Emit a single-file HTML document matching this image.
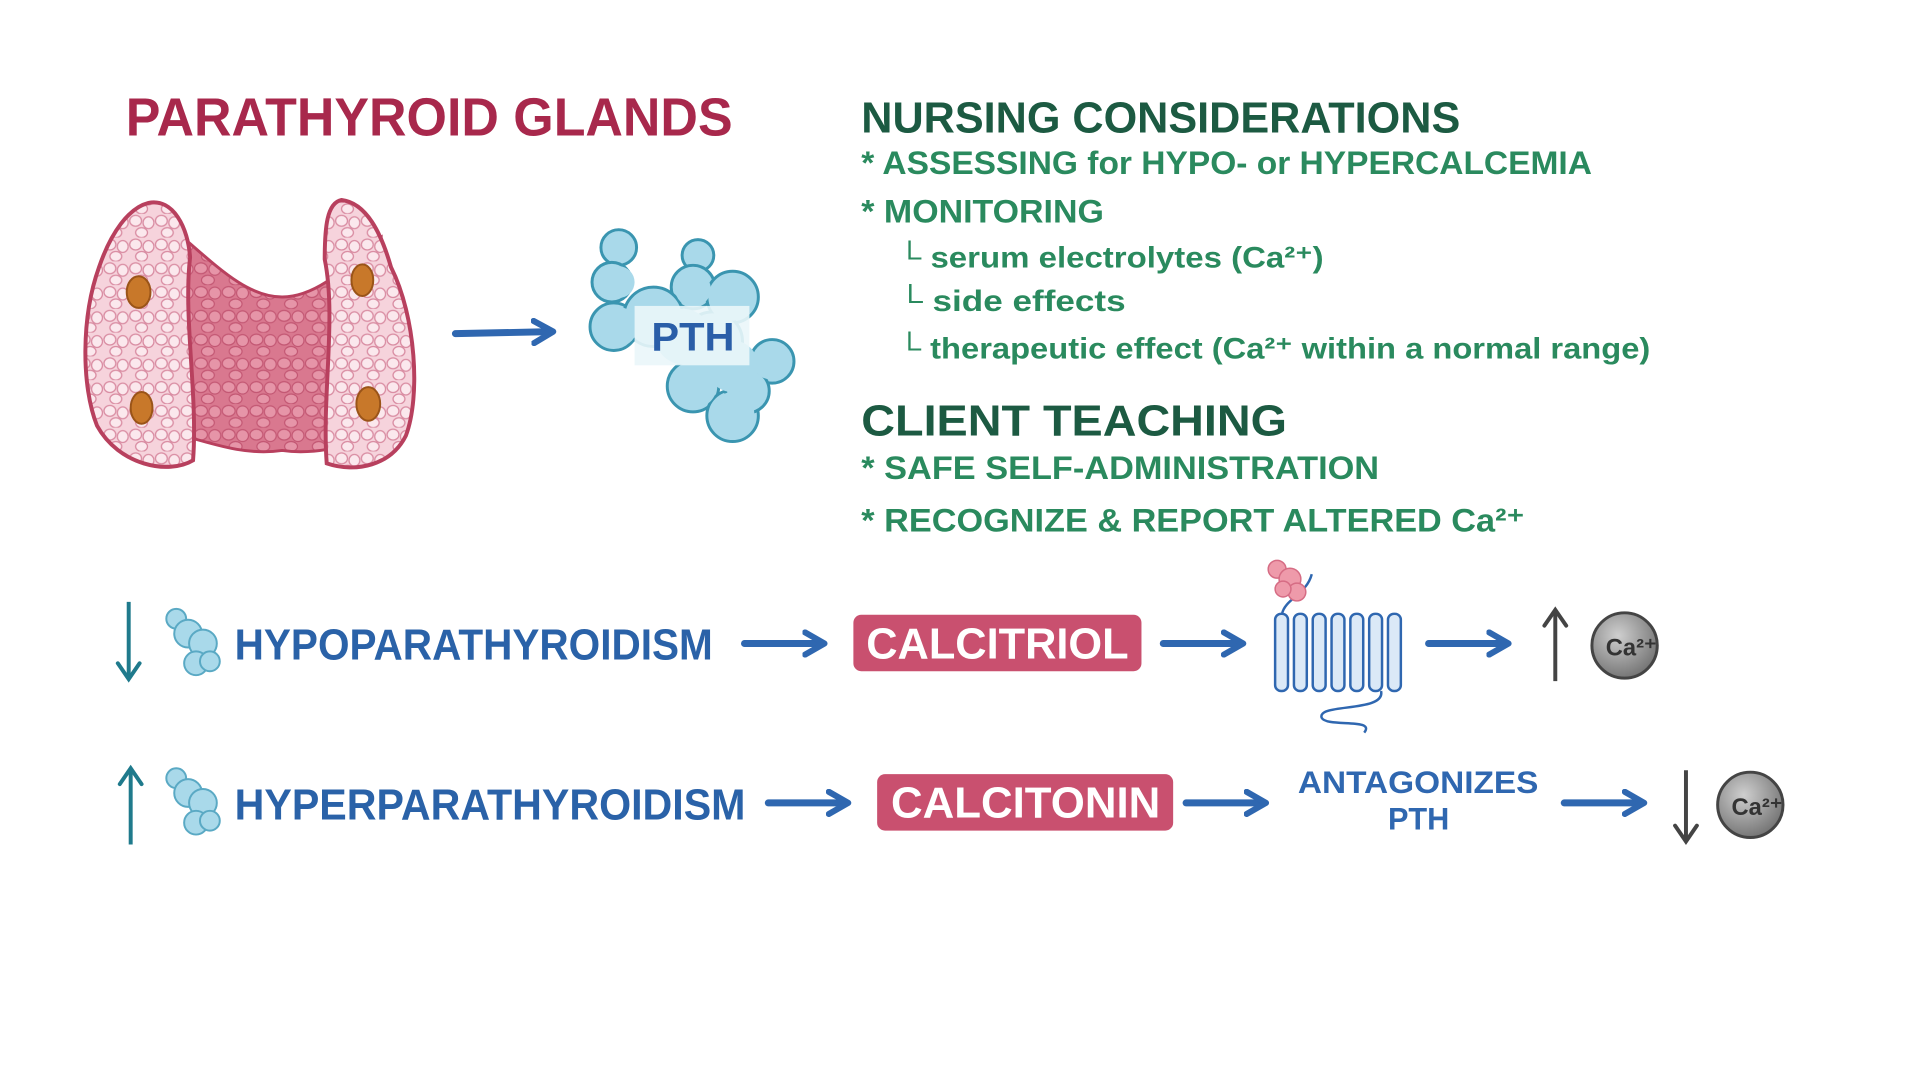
<!DOCTYPE html>
<html><head><meta charset="utf-8"><style>
html,body{margin:0;padding:0;background:#fff;}
svg{display:block;}
text{font-family:"Liberation Sans",sans-serif;font-weight:bold;}
</style></head><body>
<svg width="1920" height="1080" viewBox="0 0 1920 1080" xmlns="http://www.w3.org/2000/svg">
<defs>
<pattern id="cells" width="26" height="24" patternUnits="userSpaceOnUse">
<rect width="26" height="24" fill="#f6d3dc"/>
<ellipse cx="7" cy="7" rx="6" ry="5.5" fill="#fbe8ed" stroke="#d98ca2" stroke-width="1.3"/>
<ellipse cx="20" cy="9" rx="5.5" ry="6" fill="#fbe8ed" stroke="#d98ca2" stroke-width="1.3"/>
<ellipse cx="13" cy="19" rx="6" ry="5" fill="#fbe8ed" stroke="#d98ca2" stroke-width="1.3"/>
</pattern>
<pattern id="cells2" width="28" height="24" patternUnits="userSpaceOnUse">
<rect width="28" height="24" fill="#d9788f"/>
<ellipse cx="7" cy="7" rx="6.5" ry="5.5" fill="#e695a8" stroke="#c35773" stroke-width="1.2"/>
<ellipse cx="21" cy="8" rx="6" ry="6" fill="#e695a8" stroke="#c35773" stroke-width="1.2"/>
<ellipse cx="14" cy="19" rx="6.5" ry="5" fill="#e695a8" stroke="#c35773" stroke-width="1.2"/>
</pattern>
<marker id="ah" viewBox="0 0 10 10" refX="7" refY="5" markerWidth="4" markerHeight="4" orient="auto">
<path d="M1,1 L8,5 L1,9" fill="none" stroke="#2f67b0" stroke-width="2.2" stroke-linecap="round" stroke-linejoin="round"/>
</marker>
<radialGradient id="ball" cx="40%" cy="35%" r="65%">
<stop offset="0" stop-color="#cfcfcf"/><stop offset="1" stop-color="#777"/>
</radialGradient>
</defs>
<g transform="scale(0.99)">
<!-- Title -->
<text x="127" y="137" font-size="54" fill="#a8284c" textLength="613" lengthAdjust="spacingAndGlyphs">PARATHYROID GLANDS</text>

<!-- Thyroid -->
<path d="M185,240 C220,270 250,300 285,300 C320,300 350,270 385,240 L385,440 C350,450 320,460 285,455 C250,460 220,450 185,440 Z" fill="url(#cells2)" stroke="#b8405e" stroke-width="3"/>
<path d="M150,205 C175,200 190,230 192,260 C185,320 200,400 195,465 C170,480 120,470 98,430 C82,390 82,320 100,270 C112,235 130,210 150,205 Z" fill="url(#cells)" stroke="#b8405e" stroke-width="4"/>
<path d="M345,202 C370,205 385,235 395,270 C420,320 425,400 410,440 C395,470 360,478 330,468 C325,400 340,320 328,262 C328,230 330,205 345,202 Z" fill="url(#cells)" stroke="#b8405e" stroke-width="4"/>
<ellipse cx="140" cy="295" rx="12" ry="16" fill="#c8782a" stroke="#9a5418" stroke-width="2"/>
<ellipse cx="366" cy="283" rx="11" ry="16" fill="#c8782a" stroke="#9a5418" stroke-width="2"/>
<ellipse cx="143" cy="412" rx="11" ry="16" fill="#c8782a" stroke="#9a5418" stroke-width="2"/>
<ellipse cx="372" cy="408" rx="12" ry="17" fill="#c8782a" stroke="#9a5418" stroke-width="2"/>

<!-- arrow to PTH -->
<line x1="460" y1="337" x2="556" y2="335" stroke="#2f67b0" stroke-width="7" stroke-linecap="round" marker-end="url(#ah)"/>

<!-- PTH blob -->
<g fill="#a9d9ea" stroke="#3a95b0" stroke-width="3">
<circle cx="625" cy="250" r="18"/><circle cx="618" cy="285" r="20"/><circle cx="705" cy="258" r="16"/>
<circle cx="700" cy="290" r="22"/><circle cx="740" cy="300" r="26"/><circle cx="620" cy="330" r="24"/>
<circle cx="660" cy="320" r="30"/><circle cx="720" cy="345" r="30"/><circle cx="780" cy="365" r="22"/>
<circle cx="700" cy="390" r="26"/><circle cx="740" cy="420" r="26"/><circle cx="755" cy="395" r="22"/>
</g>
<g fill="#a9d9ea">
<circle cx="625" cy="285" r="16"/><circle cx="700" cy="292" r="18"/><circle cx="738" cy="302" r="22"/>
<circle cx="624" cy="330" r="20"/><circle cx="662" cy="322" r="26"/><circle cx="720" cy="347" r="26"/>
<circle cx="778" cy="365" r="18"/><circle cx="702" cy="390" r="22"/><circle cx="740" cy="418" r="22"/><circle cx="753" cy="395" r="18"/>
<circle cx="690" cy="340" r="28"/><circle cx="740" cy="370" r="26"/>
</g>
<rect x="641" y="309" width="116" height="60" fill="#eaf6fa" opacity="0.9"/>
<text x="658" y="354" font-size="40" fill="#2a5ea8" textLength="84" lengthAdjust="spacingAndGlyphs">PTH</text>

<!-- Nursing -->
<text x="870" y="134" font-size="44" fill="#1c5a42" textLength="605" lengthAdjust="spacingAndGlyphs">NURSING CONSIDERATIONS</text>
<g fill="#2a8a5e" font-size="33">
<text x="870" y="176" textLength="738" lengthAdjust="spacingAndGlyphs">* ASSESSING for HYPO- or HYPERCALCEMIA</text>
<text x="870" y="225" textLength="245" lengthAdjust="spacingAndGlyphs">* MONITORING</text>
<text x="907" y="270" font-size="30" textLength="430" lengthAdjust="spacingAndGlyphs">└ serum electrolytes (Ca²⁺)</text>
<text x="907" y="314" font-size="30" textLength="230" lengthAdjust="spacingAndGlyphs">└ side effects</text>
<text x="907" y="362" font-size="30" textLength="760" lengthAdjust="spacingAndGlyphs">└ therapeutic effect (Ca²⁺ within a normal range)</text>
</g>
<text x="870" y="440" font-size="44" fill="#1c5a42" textLength="430" lengthAdjust="spacingAndGlyphs">CLIENT TEACHING</text>
<g fill="#2a8a5e" font-size="33">
<text x="870" y="484" textLength="523" lengthAdjust="spacingAndGlyphs">* SAFE SELF-ADMINISTRATION</text>
<text x="870" y="537" textLength="670" lengthAdjust="spacingAndGlyphs">* RECOGNIZE &amp; REPORT ALTERED Ca²⁺</text>
</g>

<!-- Row 1 -->
<line x1="130" y1="608" x2="130" y2="684" stroke="#1f7a8c" stroke-width="4"/>
<path d="M119,670 L130,686 L141,670" fill="none" stroke="#1f7a8c" stroke-width="4" stroke-linecap="round"/>
<g fill="#a9d9ea" stroke="#5aa9c4" stroke-width="2">
<circle cx="178" cy="625" r="10"/><circle cx="190" cy="640" r="14"/><circle cx="205" cy="650" r="14"/><circle cx="198" cy="670" r="12"/><circle cx="212" cy="668" r="10"/>
</g>
<text x="237" y="666" font-size="44" fill="#2a62a8" textLength="483" lengthAdjust="spacingAndGlyphs">HYPOPARATHYROIDISM</text>
<line x1="752" y1="650" x2="830" y2="650" stroke="#2f67b0" stroke-width="7" stroke-linecap="round" marker-end="url(#ah)"/>
<rect x="862" y="621" width="291" height="57" rx="8" fill="#c9506f"/>
<text x="875" y="665" font-size="44" fill="#fff" textLength="265" lengthAdjust="spacingAndGlyphs">CALCITRIOL</text>
<line x1="1175" y1="650" x2="1253" y2="650" stroke="#2f67b0" stroke-width="7" stroke-linecap="round" marker-end="url(#ah)"/>
<!-- receptor -->
<g fill="#dbe9f7" stroke="#2f67b0" stroke-width="2.5">
<rect x="1288" y="620" width="13" height="78" rx="6"/><rect x="1307" y="620" width="13" height="78" rx="6"/>
<rect x="1326" y="620" width="13" height="78" rx="6"/><rect x="1345" y="620" width="13" height="78" rx="6"/>
<rect x="1364" y="620" width="13" height="78" rx="6"/><rect x="1383" y="620" width="13" height="78" rx="6"/>
<rect x="1402" y="620" width="13" height="78" rx="6"/>
</g>
<path d="M1325,580 C1320,600 1298,605 1295,620 M1395,698 C1400,720 1330,710 1335,725 C1340,735 1390,725 1378,740" fill="none" stroke="#2f67b0" stroke-width="2.5"/>
<g fill="#ee9aaa" stroke="#d66c84" stroke-width="1.5">
<circle cx="1290" cy="575" r="9"/><circle cx="1303" cy="585" r="11"/><circle cx="1310" cy="598" r="9"/><circle cx="1296" cy="595" r="8"/>
</g>
<line x1="1443" y1="650" x2="1521" y2="650" stroke="#2f67b0" stroke-width="7" stroke-linecap="round" marker-end="url(#ah)"/>
<line x1="1571" y1="688" x2="1571" y2="618" stroke="#444" stroke-width="4"/>
<path d="M1560,632 L1571,616 L1582,632" fill="none" stroke="#444" stroke-width="4" stroke-linecap="round"/>
<circle cx="1641" cy="652" r="33" fill="url(#ball)" stroke="#444" stroke-width="3"/>
<text x="1622" y="662" font-size="24" fill="#333" font-weight="normal">Ca²⁺</text>

<!-- Row 2 -->
<line x1="132" y1="778" x2="132" y2="853" stroke="#1f7a8c" stroke-width="4"/>
<path d="M121,792 L132,776 L143,792" fill="none" stroke="#1f7a8c" stroke-width="4" stroke-linecap="round"/>
<g fill="#a9d9ea" stroke="#5aa9c4" stroke-width="2">
<circle cx="178" cy="786" r="10"/><circle cx="190" cy="801" r="14"/><circle cx="205" cy="811" r="14"/><circle cx="198" cy="831" r="12"/><circle cx="212" cy="829" r="10"/>
</g>
<text x="237" y="828" font-size="44" fill="#2a62a8" textLength="516" lengthAdjust="spacingAndGlyphs">HYPERPARATHYROIDISM</text>
<line x1="776" y1="811" x2="854" y2="811" stroke="#2f67b0" stroke-width="7" stroke-linecap="round" marker-end="url(#ah)"/>
<rect x="886" y="782" width="299" height="57" rx="8" fill="#c9506f"/>
<text x="900" y="826" font-size="44" fill="#fff" textLength="272" lengthAdjust="spacingAndGlyphs">CALCITONIN</text>
<line x1="1198" y1="811" x2="1276" y2="811" stroke="#2f67b0" stroke-width="7" stroke-linecap="round" marker-end="url(#ah)"/>
<text x="1311" y="801" font-size="32" font-weight="normal" fill="#2f67b0" textLength="243" lengthAdjust="spacingAndGlyphs">ANTAGONIZES</text>
<text x="1402" y="838" font-size="32" font-weight="normal" fill="#2f67b0" textLength="62" lengthAdjust="spacingAndGlyphs">PTH</text>
<line x1="1580" y1="811" x2="1658" y2="811" stroke="#2f67b0" stroke-width="7" stroke-linecap="round" marker-end="url(#ah)"/>
<line x1="1703" y1="778" x2="1703" y2="848" stroke="#444" stroke-width="4"/>
<path d="M1692,834 L1703,850 L1714,834" fill="none" stroke="#444" stroke-width="4" stroke-linecap="round"/>
<circle cx="1768" cy="813" r="33" fill="url(#ball)" stroke="#444" stroke-width="3"/>
<text x="1749" y="823" font-size="24" fill="#333" font-weight="normal">Ca²⁺</text>
</g>
</svg>
</body></html>
